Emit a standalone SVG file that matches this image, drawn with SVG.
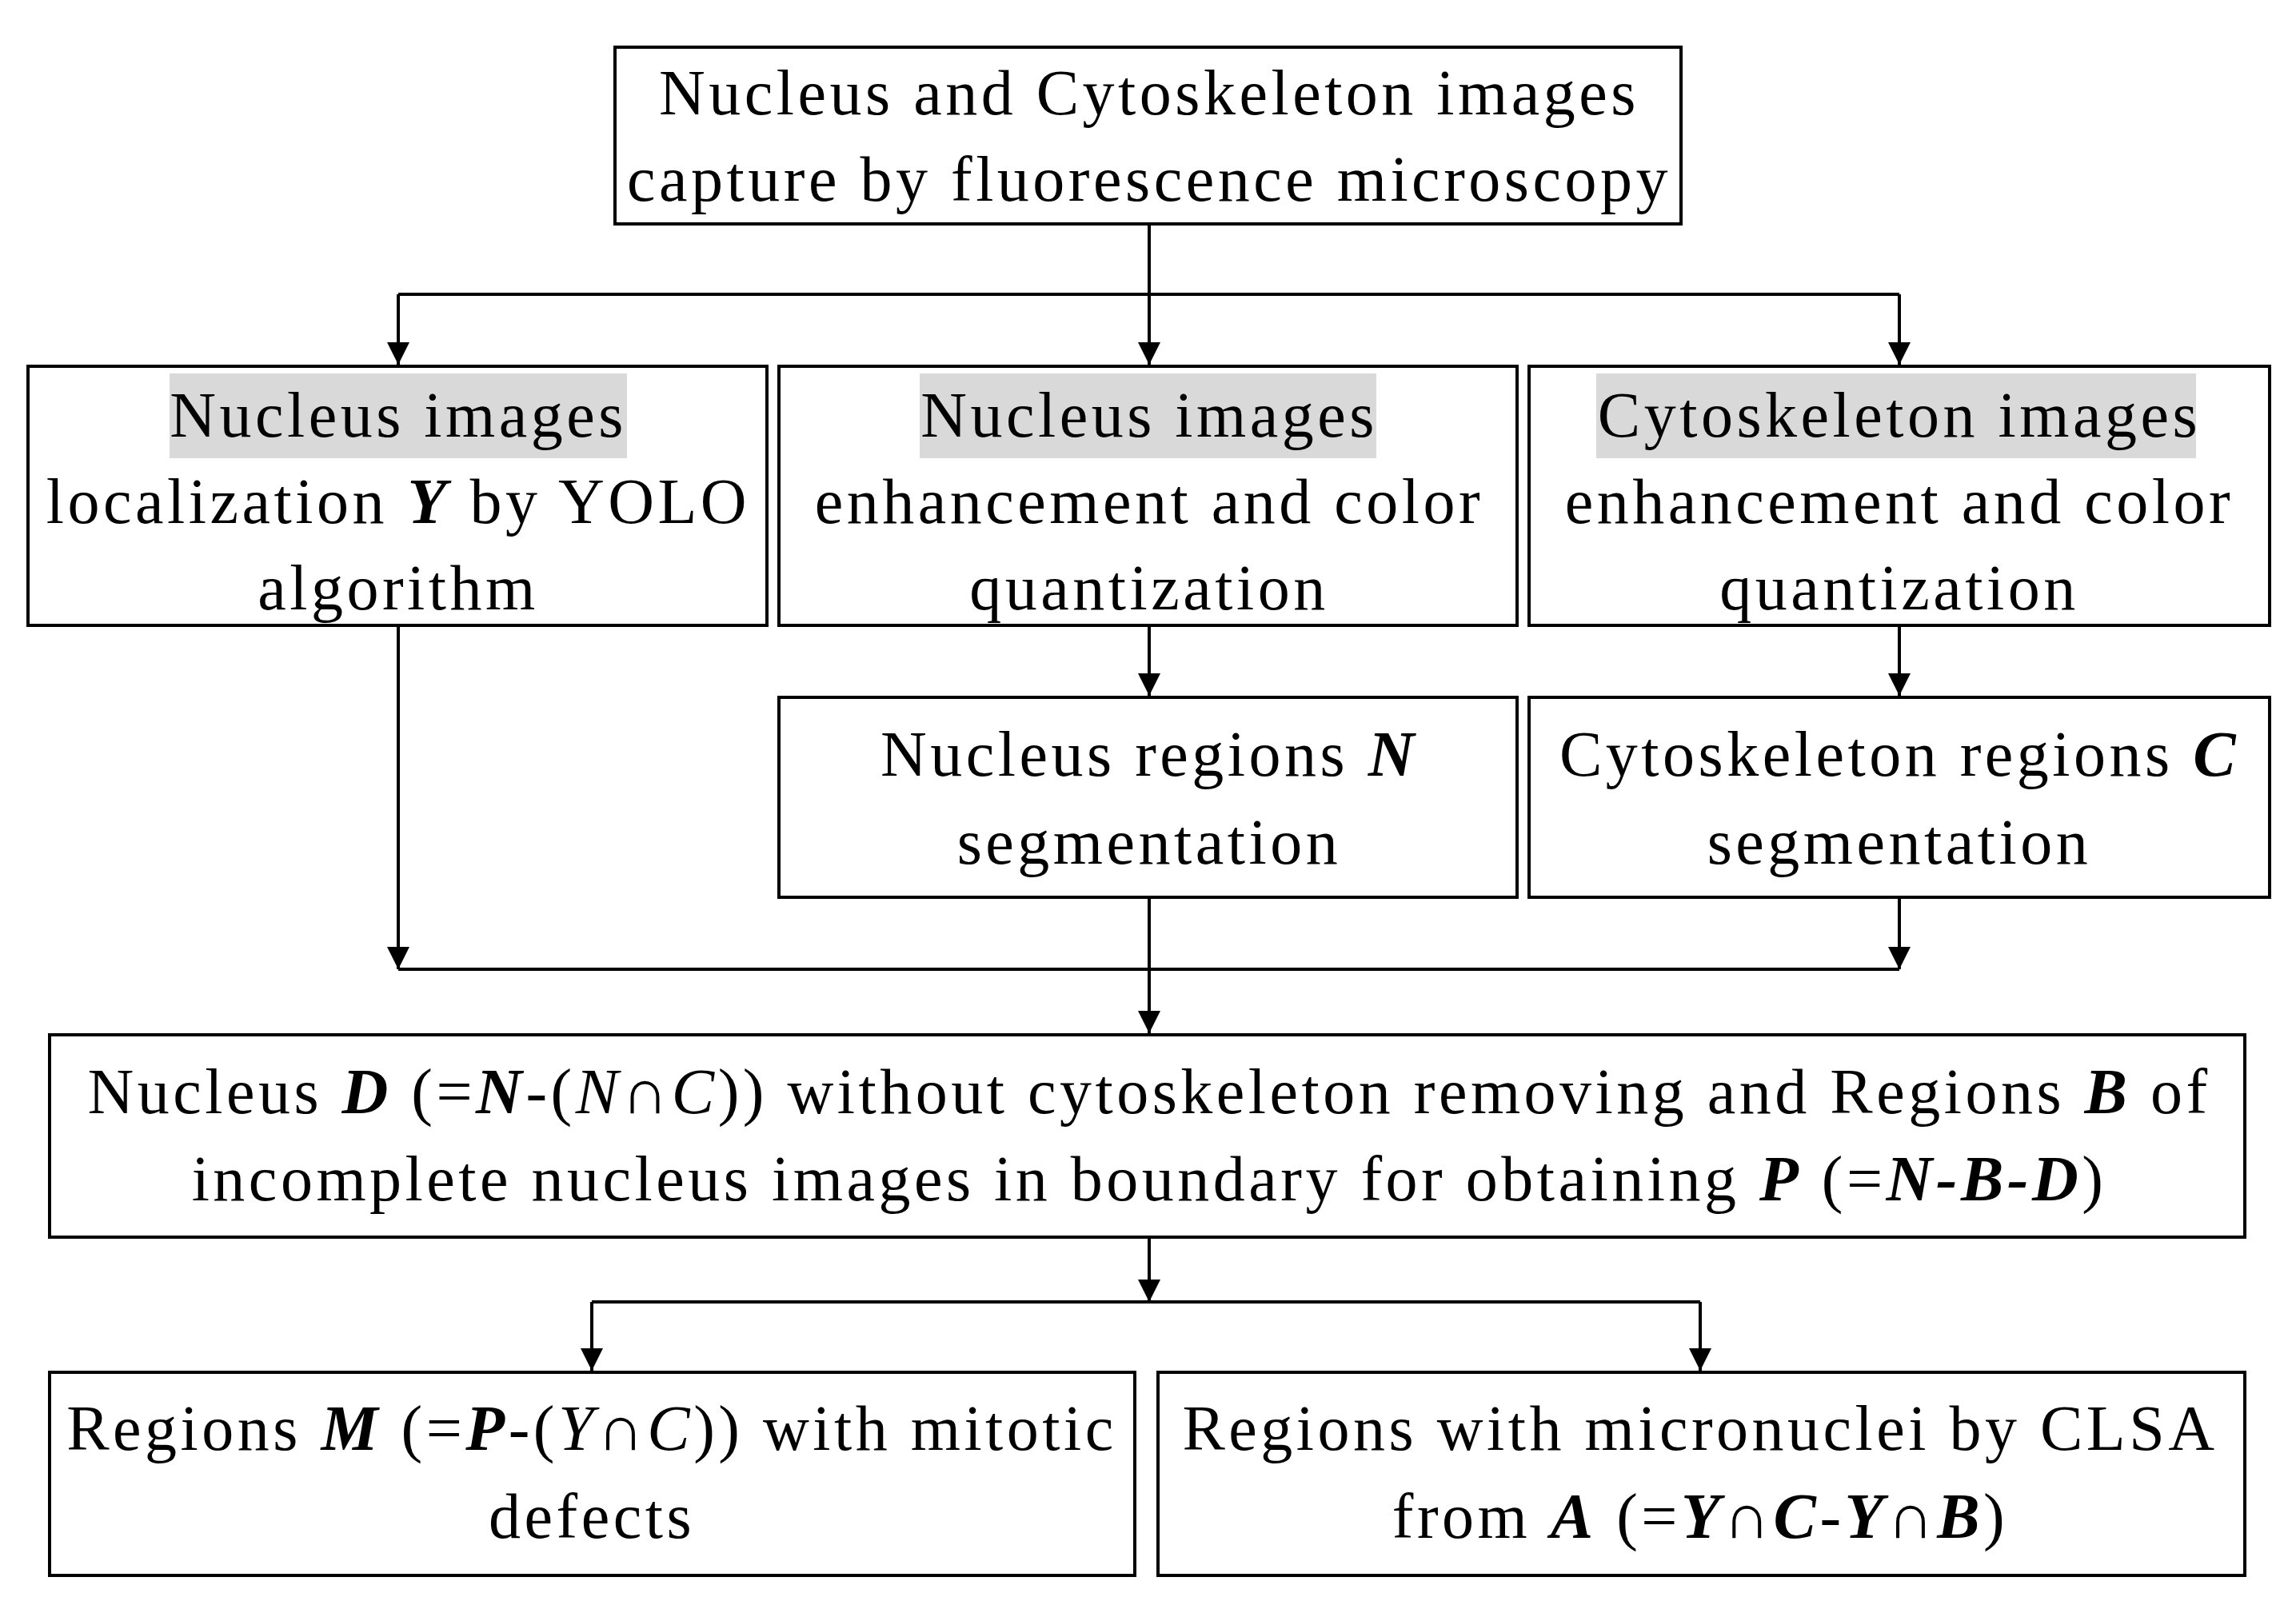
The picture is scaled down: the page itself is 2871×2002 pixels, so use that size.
<svg xmlns="http://www.w3.org/2000/svg" width="2871" height="2002" viewBox="0 0 2871 2002">
<defs>
<marker id="ah" viewBox="0 0 10 10" refX="10" refY="5" markerWidth="28" markerHeight="28" markerUnits="userSpaceOnUse" orient="auto"><path d="M0,0 L10,5 L0,10 z" fill="#000"/></marker>
<style>
.box{fill:#fff;stroke:#000;stroke-width:4}
.hl{fill:#d9d9d9}
text{font-family:"Liberation Serif","DejaVu Serif",serif;font-size:80px;letter-spacing:4.5px;text-anchor:middle;fill:#000}
.c line{stroke:#000;stroke-width:4}
</style>
</defs>
<rect width="2871" height="2002" fill="#fff"/>
<g class="c">
<line x1="1437" y1="280" x2="1437" y2="456" marker-end="url(#ah)"/>
<line x1="498" y1="368" x2="2375" y2="368"/>
<line x1="498" y1="368" x2="498" y2="456" marker-end="url(#ah)"/>
<line x1="2375" y1="368" x2="2375" y2="456" marker-end="url(#ah)"/>
<line x1="1437" y1="782" x2="1437" y2="870" marker-end="url(#ah)"/>
<line x1="2375" y1="782" x2="2375" y2="870" marker-end="url(#ah)"/>
<line x1="498" y1="782" x2="498" y2="1212" marker-end="url(#ah)"/>
<line x1="498" y1="1212" x2="2375" y2="1212"/>
<line x1="2375" y1="1122" x2="2375" y2="1212" marker-end="url(#ah)"/>
<line x1="1437" y1="1122" x2="1437" y2="1292" marker-end="url(#ah)"/>
<line x1="1437" y1="1547" x2="1437" y2="1628" marker-end="url(#ah)"/>
<line x1="740" y1="1628" x2="2126" y2="1628"/>
<line x1="740" y1="1628" x2="740" y2="1714" marker-end="url(#ah)"/>
<line x1="2126" y1="1628" x2="2126" y2="1714" marker-end="url(#ah)"/>
</g>
<g id="top"><rect class="box" x="769" y="59" width="1333" height="221"/>
<text x="1437" y="143">Nucleus and Cytoskeleton images</text><text x="1437" y="251">capture by fluorescence microscopy</text></g>
<g id="yolo"><rect class="box" x="35" y="458" width="924" height="324"/><rect class="hl" x="212" y="467" width="572" height="106"/>
<text x="498" y="546">Nucleus images</text><text x="498" y="654">localization <tspan font-weight="bold" font-style="italic">Y</tspan> by YOLO</text><text x="498" y="762">algorithm</text></g>
<g id="nenh"><rect class="box" x="974" y="458" width="923" height="324"/><rect class="hl" x="1150" y="467" width="571" height="106"/>
<text x="1437" y="546">Nucleus images</text><text x="1437" y="654">enhancement and color</text><text x="1437" y="762">quantization</text></g>
<g id="cenh"><rect class="box" x="1912" y="458" width="926" height="324"/><rect class="hl" x="1996" y="467" width="750" height="106"/>
<text x="2375" y="546">Cytoskeleton images</text><text x="2375" y="654">enhancement and color</text><text x="2375" y="762">quantization</text></g>
<g id="nseg"><rect class="box" x="974" y="872" width="923" height="250"/>
<text x="1437" y="970">Nucleus regions <tspan font-weight="bold" font-style="italic">N</tspan></text><text x="1437" y="1080">segmentation</text></g>
<g id="cseg"><rect class="box" x="1912" y="872" width="926" height="250"/>
<text x="2375" y="970">Cytoskeleton regions <tspan font-weight="bold" font-style="italic">C</tspan></text><text x="2375" y="1080">segmentation</text></g>
<g id="big"><rect class="box" x="62" y="1294" width="2745" height="253"/>
<text x="1437" y="1392">Nucleus <tspan font-weight="bold" font-style="italic">D</tspan> (=<tspan font-weight="bold" font-style="italic">N</tspan>-(<tspan font-style="italic">N</tspan>∩<tspan font-style="italic">C</tspan>)) without cytoskeleton removing and Regions <tspan font-weight="bold" font-style="italic">B</tspan> of</text>
<text x="1437" y="1501">incomplete nucleus images in boundary for obtaining <tspan font-weight="bold" font-style="italic">P</tspan> (=<tspan font-weight="bold" font-style="italic">N-B-D</tspan>)</text></g>
<g id="mit"><rect class="box" x="62" y="1716" width="1357" height="254"/>
<text x="740" y="1813">Regions <tspan font-weight="bold" font-style="italic">M</tspan> (=<tspan font-weight="bold" font-style="italic">P</tspan>-(<tspan font-style="italic">Y</tspan>∩<tspan font-style="italic">C</tspan>)) with mitotic</text><text x="740" y="1923">defects</text></g>
<g id="micro"><rect class="box" x="1448" y="1716" width="1359" height="254"/>
<text x="2126" y="1813">Regions with micronuclei by CLSA</text><text x="2126" y="1923">from <tspan font-weight="bold" font-style="italic">A</tspan> (=<tspan font-weight="bold" font-style="italic">Y</tspan>∩<tspan font-weight="bold" font-style="italic">C</tspan>-<tspan font-weight="bold" font-style="italic">Y</tspan>∩<tspan font-weight="bold" font-style="italic">B</tspan>)</text></g>
</svg>
